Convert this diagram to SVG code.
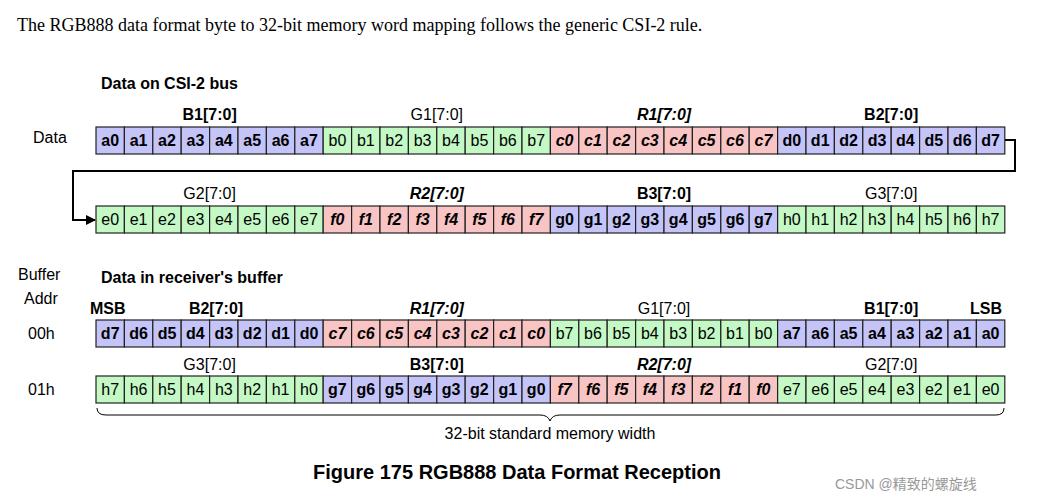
<svg xmlns="http://www.w3.org/2000/svg" xmlns:xlink="http://www.w3.org/1999/xlink" width="1060" height="503" viewBox="0 0 1060 503">
<style>
text{font-family:"Liberation Sans",Arial,sans-serif;fill:#000}
.c{font-size:16px;text-anchor:middle}
.b{font-weight:bold}
.r{font-weight:bold;font-style:italic}
.lab{font-size:16px;text-anchor:middle}
.h{font-size:16px;font-weight:bold}
.cell{stroke:#222;stroke-width:1.2}
</style>
<defs>
<g id="byte">
<rect class="cell" x="0" y="0" width="28.4" height="27"/><rect class="cell" x="28.4" y="0" width="28.4" height="27"/><rect class="cell" x="56.8" y="0" width="28.4" height="27"/><rect class="cell" x="85.2" y="0" width="28.4" height="27"/><rect class="cell" x="113.6" y="0" width="28.4" height="27"/><rect class="cell" x="142" y="0" width="28.4" height="27"/><rect class="cell" x="170.4" y="0" width="28.4" height="27"/><rect class="cell" x="198.8" y="0" width="28.4" height="27"/>
</g>
<marker id="ah" markerWidth="10" markerHeight="10" refX="9" refY="5" orient="auto" markerUnits="userSpaceOnUse"><path d="M0,0 L10,5 L0,10 z" fill="#000"/></marker>
</defs>
<text x="17" y="31" style="font-family:'Liberation Serif',serif;font-size:18px">The RGB888 data format byte to 32-bit memory word mapping follows the generic CSI-2 rule.</text>
<text class="h" x="101" y="89">Data on CSI-2 bus</text>
<text x="33" y="143" style="font-size:16px">Data</text>
<text x="18" y="280" style="font-size:16px">Buffer</text>
<text x="24" y="304" style="font-size:16px">Addr</text>
<text class="h" x="101" y="283">Data in receiver's buffer</text>
<text x="28" y="339" style="font-size:16px">00h</text>
<text x="28" y="395" style="font-size:16px">01h</text>

<g id="connectors"><path d="M1005,140 H1015 V171 H73 V220 H95" fill="none" stroke="#000" stroke-width="2" marker-end="url(#ah)"/></g>

<g id="row1">
<text class="lab b" x="209.6" y="120">B1[7:0]</text><text class="lab" x="436.8" y="120">G1[7:0]</text><text class="lab r" x="664" y="120">R1[7:0]</text><text class="lab b" x="891.2" y="120">B2[7:0]</text>
<use xlink:href="#byte" x="96" y="127" fill="#c4c4f8"/><use xlink:href="#byte" x="323.2" y="127" fill="#c4f8c4"/><use xlink:href="#byte" x="550.4" y="127" fill="#f8c4c4"/><use xlink:href="#byte" x="777.6" y="127" fill="#c4c4f8"/>
<g class="c b"><text x="110.2" y="146">a0</text><text x="138.6" y="146">a1</text><text x="167" y="146">a2</text><text x="195.4" y="146">a3</text><text x="223.8" y="146">a4</text><text x="252.2" y="146">a5</text><text x="280.6" y="146">a6</text><text x="309" y="146">a7</text></g>
<g class="c"><text x="337.4" y="146">b0</text><text x="365.8" y="146">b1</text><text x="394.2" y="146">b2</text><text x="422.6" y="146">b3</text><text x="451" y="146">b4</text><text x="479.4" y="146">b5</text><text x="507.8" y="146">b6</text><text x="536.2" y="146">b7</text></g>
<g class="c r"><text x="564.6" y="146">c0</text><text x="593" y="146">c1</text><text x="621.4" y="146">c2</text><text x="649.8" y="146">c3</text><text x="678.2" y="146">c4</text><text x="706.6" y="146">c5</text><text x="735" y="146">c6</text><text x="763.4" y="146">c7</text></g>
<g class="c b"><text x="791.8" y="146">d0</text><text x="820.2" y="146">d1</text><text x="848.6" y="146">d2</text><text x="877" y="146">d3</text><text x="905.4" y="146">d4</text><text x="933.8" y="146">d5</text><text x="962.2" y="146">d6</text><text x="990.6" y="146">d7</text></g>
</g>

<g id="row2">
<text class="lab" x="209.6" y="199">G2[7:0]</text><text class="lab r" x="436.8" y="199">R2[7:0]</text><text class="lab b" x="664" y="199">B3[7:0]</text><text class="lab" x="891.2" y="199">G3[7:0]</text>
<use xlink:href="#byte" x="96" y="206" fill="#c4f8c4"/><use xlink:href="#byte" x="323.2" y="206" fill="#f8c4c4"/><use xlink:href="#byte" x="550.4" y="206" fill="#c4c4f8"/><use xlink:href="#byte" x="777.6" y="206" fill="#c4f8c4"/>
<g class="c"><text x="110.2" y="225">e0</text><text x="138.6" y="225">e1</text><text x="167" y="225">e2</text><text x="195.4" y="225">e3</text><text x="223.8" y="225">e4</text><text x="252.2" y="225">e5</text><text x="280.6" y="225">e6</text><text x="309" y="225">e7</text></g>
<g class="c r"><text x="337.4" y="225">f0</text><text x="365.8" y="225">f1</text><text x="394.2" y="225">f2</text><text x="422.6" y="225">f3</text><text x="451" y="225">f4</text><text x="479.4" y="225">f5</text><text x="507.8" y="225">f6</text><text x="536.2" y="225">f7</text></g>
<g class="c b"><text x="564.6" y="225">g0</text><text x="593" y="225">g1</text><text x="621.4" y="225">g2</text><text x="649.8" y="225">g3</text><text x="678.2" y="225">g4</text><text x="706.6" y="225">g5</text><text x="735" y="225">g6</text><text x="763.4" y="225">g7</text></g>
<g class="c"><text x="791.8" y="225">h0</text><text x="820.2" y="225">h1</text><text x="848.6" y="225">h2</text><text x="877" y="225">h3</text><text x="905.4" y="225">h4</text><text x="933.8" y="225">h5</text><text x="962.2" y="225">h6</text><text x="990.6" y="225">h7</text></g>
</g>

<g id="row3">
<text class="h" x="90" y="314">MSB</text><text class="h" x="970" y="314">LSB</text>
<text class="lab b" x="216" y="314">B2[7:0]</text><text class="lab r" x="436.8" y="314">R1[7:0]</text><text class="lab" x="664" y="314">G1[7:0]</text><text class="lab b" x="891.2" y="314">B1[7:0]</text>
<use xlink:href="#byte" x="96" y="320" fill="#c4c4f8"/><use xlink:href="#byte" x="323.2" y="320" fill="#f8c4c4"/><use xlink:href="#byte" x="550.4" y="320" fill="#c4f8c4"/><use xlink:href="#byte" x="777.6" y="320" fill="#c4c4f8"/>
<g class="c b"><text x="110.2" y="339">d7</text><text x="138.6" y="339">d6</text><text x="167" y="339">d5</text><text x="195.4" y="339">d4</text><text x="223.8" y="339">d3</text><text x="252.2" y="339">d2</text><text x="280.6" y="339">d1</text><text x="309" y="339">d0</text></g>
<g class="c r"><text x="337.4" y="339">c7</text><text x="365.8" y="339">c6</text><text x="394.2" y="339">c5</text><text x="422.6" y="339">c4</text><text x="451" y="339">c3</text><text x="479.4" y="339">c2</text><text x="507.8" y="339">c1</text><text x="536.2" y="339">c0</text></g>
<g class="c"><text x="564.6" y="339">b7</text><text x="593" y="339">b6</text><text x="621.4" y="339">b5</text><text x="649.8" y="339">b4</text><text x="678.2" y="339">b3</text><text x="706.6" y="339">b2</text><text x="735" y="339">b1</text><text x="763.4" y="339">b0</text></g>
<g class="c b"><text x="791.8" y="339">a7</text><text x="820.2" y="339">a6</text><text x="848.6" y="339">a5</text><text x="877" y="339">a4</text><text x="905.4" y="339">a3</text><text x="933.8" y="339">a2</text><text x="962.2" y="339">a1</text><text x="990.6" y="339">a0</text></g>
</g>

<g id="row4">
<text class="lab" x="209.6" y="370">G3[7:0]</text><text class="lab b" x="436.8" y="370">B3[7:0]</text><text class="lab r" x="664" y="370">R2[7:0]</text><text class="lab" x="891.2" y="370">G2[7:0]</text>
<use xlink:href="#byte" x="96" y="376" fill="#c4f8c4"/><use xlink:href="#byte" x="323.2" y="376" fill="#c4c4f8"/><use xlink:href="#byte" x="550.4" y="376" fill="#f8c4c4"/><use xlink:href="#byte" x="777.6" y="376" fill="#c4f8c4"/>
<g class="c"><text x="110.2" y="395">h7</text><text x="138.6" y="395">h6</text><text x="167" y="395">h5</text><text x="195.4" y="395">h4</text><text x="223.8" y="395">h3</text><text x="252.2" y="395">h2</text><text x="280.6" y="395">h1</text><text x="309" y="395">h0</text></g>
<g class="c b"><text x="337.4" y="395">g7</text><text x="365.8" y="395">g6</text><text x="394.2" y="395">g5</text><text x="422.6" y="395">g4</text><text x="451" y="395">g3</text><text x="479.4" y="395">g2</text><text x="507.8" y="395">g1</text><text x="536.2" y="395">g0</text></g>
<g class="c r"><text x="564.6" y="395">f7</text><text x="593" y="395">f6</text><text x="621.4" y="395">f5</text><text x="649.8" y="395">f4</text><text x="678.2" y="395">f3</text><text x="706.6" y="395">f2</text><text x="735" y="395">f1</text><text x="763.4" y="395">f0</text></g>
<g class="c"><text x="791.8" y="395">e7</text><text x="820.2" y="395">e6</text><text x="848.6" y="395">e5</text><text x="877" y="395">e4</text><text x="905.4" y="395">e3</text><text x="933.8" y="395">e2</text><text x="962.2" y="395">e1</text><text x="990.6" y="395">e0</text></g>
</g>

<g id="brace"><path d="M97,408 Q97,415 106,415 H540 Q548,415 550,421 Q552,415 560,415 H996 Q1004,415 1004,408" fill="none" stroke="#000" stroke-width="1"/>
<text class="lab" x="550" y="439">32-bit standard memory width</text></g>
<text x="517" y="479" style="font-size:20px;font-weight:bold;text-anchor:middle">Figure 175 RGB888 Data Format Reception</text>
<text x="835" y="489" style="font-family:'Liberation Sans','Noto Sans CJK SC',sans-serif;font-size:14px;fill:#999">CSDN @精致的螺旋线</text>
</svg>
